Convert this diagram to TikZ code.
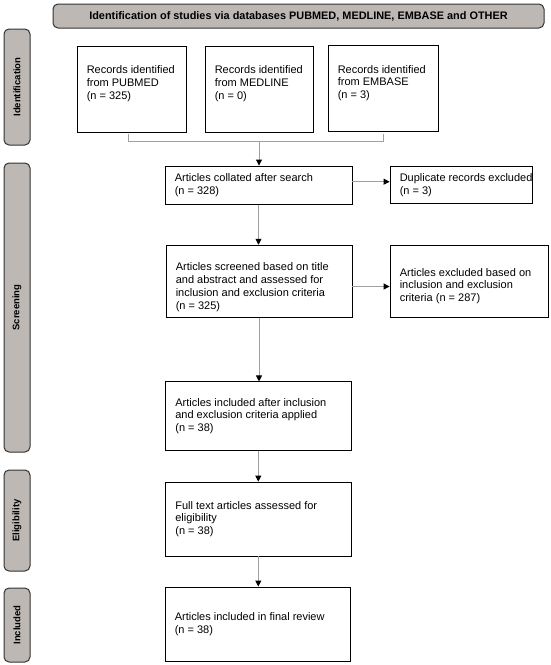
\documentclass[tikz,border=0pt]{standalone}
\usepackage{fontspec}
\setmainfont{Liberation Sans}
\usepackage{graphicx}
\usetikzlibrary{arrows.meta}
\definecolor{phasegray}{HTML}{BDB8B4}
\definecolor{linkgray}{HTML}{A0A0A0}
\definecolor{edgedark}{HTML}{333333}
\tikzset{
  box/.style={draw=black, line width=0.8pt, fill=white, inner sep=0pt},
  boxtext/.style={anchor=west, align=left, inner sep=0pt, font=\fontsize{11}{12.8}\selectfont},
  phase/.style={draw=edgedark, line width=1pt, fill=phasegray, rounded corners=5pt, inner sep=0pt},
  phasetext/.style={font=\bfseries\fontsize{9.5}{11}\selectfont},
  link/.style={draw=linkgray, line width=0.9pt},
  arrow/.style={link, -{Triangle[color=black, length=6pt, width=6pt]}},
}
\newcommand\flowbox[7]{%
  \node[box, minimum width=#4, minimum height=#5] (#1) at (#2,#3) {};
  \path (#1.west) ++(10,#6) node[boxtext] (#1-t) {#7};
}
\begin{document}
\begin{tikzpicture}[x=1pt,y=-1pt]
\useasboundingbox (0,0) rectangle (550,665);
% banner and phases
\node[phase, minimum width=491, minimum height=24, font=\bfseries\fontsize{10.9}{12}\selectfont] (banner) at (298.5,16) {Identification of studies via databases PUBMED, MEDLINE, EMBASE and OTHER};
\node[phase, phasetext, minimum width=26, minimum height=116] (idp) at (17,87) {\rotatebox{90}{Identification}};
\node[phase, phasetext, minimum width=26, minimum height=289] (scp) at (17,307.5) {\rotatebox{90}{Screening}};
\node[phase, phasetext, minimum width=26, minimum height=101] (elp) at (17,520.5) {\rotatebox{90}{Eligibility}};
\node[phase, phasetext, minimum width=26, minimum height=74] (inp) at (17,625) {\rotatebox{90}{Included}};
% boxes
\flowbox{pub}{131.5}{89}{109}{86}{-5.5}{Records identified\\from PUBMED\\(n = 325)}
\flowbox{med}{259}{89}{108}{86}{-5.5}{Records identified\\from MEDLINE\\(n = 0)}
\flowbox{emb}{383}{88}{110}{86}{-5}{Records identified\\from EMBASE\\(n = 3)}
\flowbox{coll}{258.5}{185.2}{187}{38.5}{0}{Articles collated after search\\(n = 328)}
\flowbox{dup}{461}{184.8}{142}{36.5}{0}{Duplicate records excluded\\(n = 3)}
\flowbox{scr}{259}{281.5}{186}{72.7}{5.5}{Articles screened based on title\\and abstract and assessed for\\inclusion and exclusion criteria\\(n = 325)}
\flowbox{exc}{469}{281}{158}{72}{5}{Articles excluded based on\\inclusion and exclusion\\criteria (n = 287)}
\flowbox{inc}{258.3}{416}{185.5}{68.3}{0}{Articles included after inclusion\\and exclusion criteria applied\\(n = 38)}
\flowbox{full}{258.3}{519}{185.5}{74}{0}{Full text articles assessed for\\eligibility\\(n = 38)}
\flowbox{fin}{257.5}{624.3}{185}{74.7}{0}{Articles included in final review\\(n = 38)}
% connectors
\coordinate (bj) at (259,141.7);
\draw[link] ([xshift=-3pt,yshift=-2pt]pub.south) |- (bj) -| ([yshift=-3pt]emb.south);
\draw[arrow] (bj) -- (bj |- coll.north);
\draw[arrow] ([yshift=3.5pt]coll.east) -- ([yshift=3.5pt]coll.east -| dup.west);
\draw[arrow] (coll.south) -- (coll.south |- scr.north);
\draw[arrow] ([yshift=-5pt]scr.east) -- ([yshift=-5pt]scr.east -| exc.west);
\draw[arrow] (scr.south) -- (scr.south |- inc.north);
\draw[arrow] (inc.south) -- (inc.south |- full.north);
\draw[arrow] (full.south) -- (full.south |- fin.north);
\end{tikzpicture}
\end{document}
